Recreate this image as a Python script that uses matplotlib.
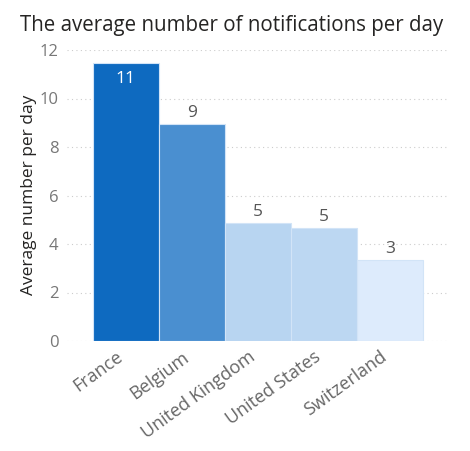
import matplotlib
matplotlib.use("Agg")
import matplotlib.pyplot as plt
from matplotlib.transforms import ScaledTranslation, blended_transform_factory

countries = ["France", "Belgium", "United Kingdom", "United States", "Switzerland"]
values = [11.45, 8.95, 4.85, 4.65, 3.35]
colors = ["#0E6AC0", "#4A8FD0", "#B8D5F1", "#BCD7F2", "#DDEBFC"]
yticks = [0, 2, 4, 6, 8, 10, 12]

plt.rcParams['font.family'] = ['Open Sans', 'DejaVu Sans']

fig = plt.figure(figsize=(4.70, 4.51), dpi=100)
ax = fig.add_axes([67/470, 1 - 341/451, (448-67)/470, (341-50)/451])

x = list(range(len(countries)))
bars = ax.bar(x, values, width=1.0, color=colors, edgecolor="#D2E4F7", linewidth=0.8, zorder=2)

for i, (xi, v) in enumerate(zip(x, values)):
    if i == 0:
        ax.text(xi, v - 0.3, f"{v:.0f}", ha="center", va="top", color="white", fontsize=12.5)
    else:
        ax.text(xi, v + 0.12, f"{v:.0f}", ha="center", va="bottom", color="#555555", fontsize=12.5)

ax.set_xlim(-0.89, 4.88)
ax.set_ylim(0, 12)
ax.set_yticks(yticks)
ax.set_yticklabels([str(t) for t in yticks], color="#777777", fontsize=12)
ax.set_xticks(x)
ax.set_xticklabels([])
trans = blended_transform_factory(ax.transData, ax.transAxes) + \
    ScaledTranslation(-10/100, -7/100, fig.dpi_scale_trans)
for xi, name in zip(x, countries):
    ax.text(xi, 0, name, transform=trans, ha="right", va="top", rotation=36,
            rotation_mode="anchor", color="#666666", fontsize=13)
ax.tick_params(axis="y", length=0, pad=6)
ax.tick_params(axis="x", length=0)
for s in ax.spines.values():
    s.set_visible(False)
ax.yaxis.grid(True, linestyle=(0, (1, 3)), color="#CCCCCC", linewidth=0.8, zorder=0)
ax.set_axisbelow(True)
ax.set_ylabel("Average number per day", fontsize=12.5, color="#252423")
ax.yaxis.set_label_coords(-(67 - 37) / (448 - 67), (341 - 195) / (341 - 50))

fig.text(20/470, 1 - 26/451, "The average number of notifications per day",
         fontsize=14.8, color="#252423", va="center", ha="left")

fig.savefig("out.png", dpi=100)
